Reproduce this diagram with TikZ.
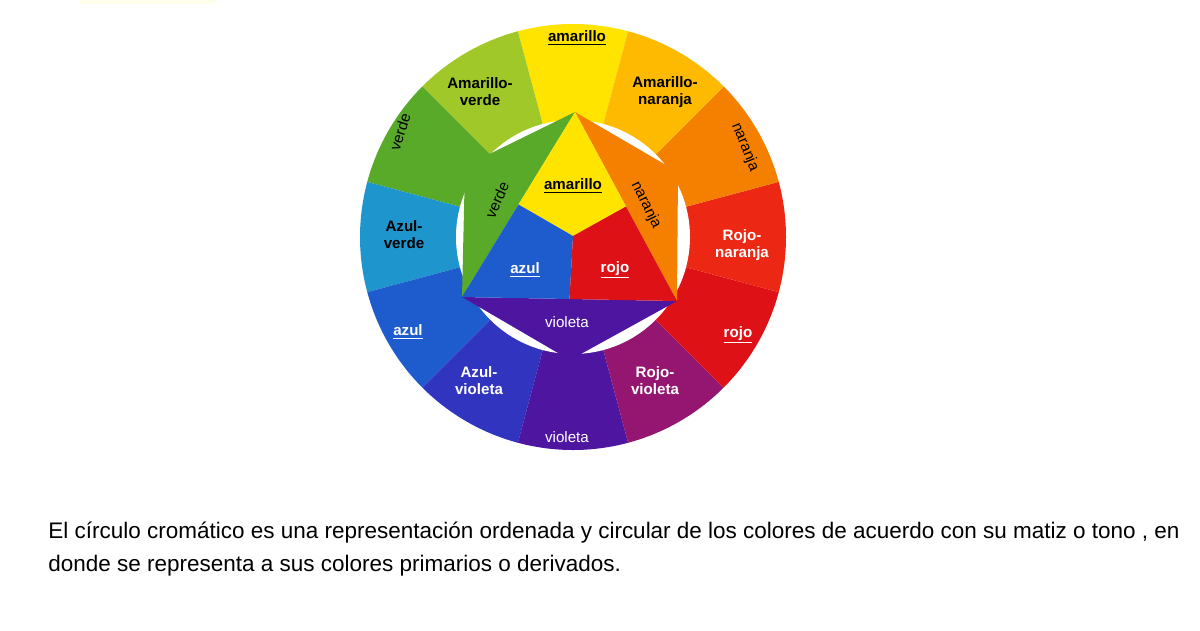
\documentclass[tikz,border=0pt]{standalone}
\usepackage{fontspec}
\setmainfont{Liberation Sans}
\usetikzlibrary{calc}
\newcommand\myul[1]{\underline{#1}}
\begin{document}
\begin{tikzpicture}[x=0.02cm,y=-0.02cm,
  lbl/.style={font=\fontsize{8.6}{9.6}\selectfont\bfseries,align=center,inner sep=0},
  wl/.style={lbl,text=white},
  bl/.style={lbl,text=black}]
\useasboundingbox (0,0) rectangle (1200,630);
\fill[white] (0,0) rectangle (1200,630);
\fill[yellow!8] (80,0) rectangle (215,4);
\definecolor{cY}{RGB}{255,228,0}
\definecolor{cYO}{RGB}{253,186,0}
\definecolor{cO}{RGB}{245,128,0}
\definecolor{cRO}{RGB}{236,40,20}
\definecolor{cR}{RGB}{222,18,22}
\definecolor{cRV}{RGB}{148,22,112}
\definecolor{cV}{RGB}{78,22,160}
\definecolor{cBV}{RGB}{48,52,190}
\definecolor{cB}{RGB}{30,92,205}
\definecolor{cBG}{RGB}{30,150,205}
\definecolor{cG}{RGB}{88,170,40}
\definecolor{cYG}{RGB}{160,200,40}
\coordinate (c) at (573,237);
\foreach \col [count=\i from 0] in {cY,cYG,cG,cBG,cB,cBV,cV,cRV,cR,cRO,cO,cYO}{
  \pgfmathsetmacro\a{-90-30*\i-15}
  \pgfmathsetmacro\b{-90-30*\i+15}
  \fill[\col] (c) -- ++(\a:213) arc[start angle=\a,end angle=\b,radius=213] -- cycle;
}
\fill[white] (c) circle[radius=117];
\coordinate (T) at (575,112);
\coordinate (UR) at (678,172);
\coordinate (LR) at (677,301);
\coordinate (Bt) at (570,360);
\coordinate (LL) at (462,297);
\coordinate (UL) at (465,166);
\coordinate (P1) at ($(T)!0.5!(LL)$);
\coordinate (P2) at ($(T)!0.5!(LR)$);
\coordinate (P3) at ($(LL)!0.5!(LR)$);
\coordinate (C) at (573,236);
\fill[cG] (T) -- (UL) -- (LL) -- cycle;
\fill[cO] (T) -- (UR) -- (LR) -- cycle;
\fill[cV] (LL) -- (LR) -- (Bt) -- cycle;
\fill[cY] (T) -- (P1) -- (C) -- (P2) -- cycle;
\fill[cB] (P1) -- (LL) -- (P3) -- (C) -- cycle;
\fill[cR] (C) -- (P3) -- (LR) -- (P2) -- cycle;
\node[bl] (n1) at (577,38) {\myul{amarillo}};
\node[bl] (n2) at (480,92) {Amarillo-\\verde};
\node[bl,font=\fontsize{8.6}{9.6}\selectfont,rotate=72] (n3) at (400,132) {verde};
\node[bl] (n4) at (404,235) {Azul-\\verde};
\node[wl] (n5) at (408,332) {\myul{azul}};
\node[wl] (n6) at (479,381) {Azul-\\violeta};
\node[wl,font=\fontsize{8.6}{9.6}\selectfont] (n7) at (567,437) {violeta};
\node[wl] (n8) at (655,381) {Rojo-\\violeta};
\node[wl] (n9) at (738,335) {\myul{rojo}};
\node[wl] (n10) at (742,245) {Rojo-\\naranja};
\node[bl,font=\fontsize{8.6}{9.6}\selectfont,rotate=-68] (n11) at (745,147) {naranja};
\node[bl] (n12) at (665,92) {Amarillo-\\naranja};
\node[bl] (i1) at (573,186) {\myul{amarillo}};
\node[wl] (i2) at (525,270) {\myul{azul}};
\node[wl] (i3) at (615,270) {\myul{rojo}};
\node[wl,font=\fontsize{8.6}{9.6}\selectfont] (i4) at (567,322) {violeta};
\node[bl,font=\fontsize{8.6}{9.6}\selectfont,rotate=66] (i5) at (497,200) {verde};
\node[bl,font=\fontsize{8.6}{9.6}\selectfont,rotate=-64] (i6) at (646,205) {naranja};
\node[anchor=north west,inner sep=0,font=\fontsize{12.8}{18.8}\selectfont,align=left] (txt) at (48,522)
{El círculo cromático es una representación ordenada y circular de los colores de acuerdo con su matiz o tono , en\\
donde se representa a sus colores primarios o derivados.};
\end{tikzpicture}
\end{document}
